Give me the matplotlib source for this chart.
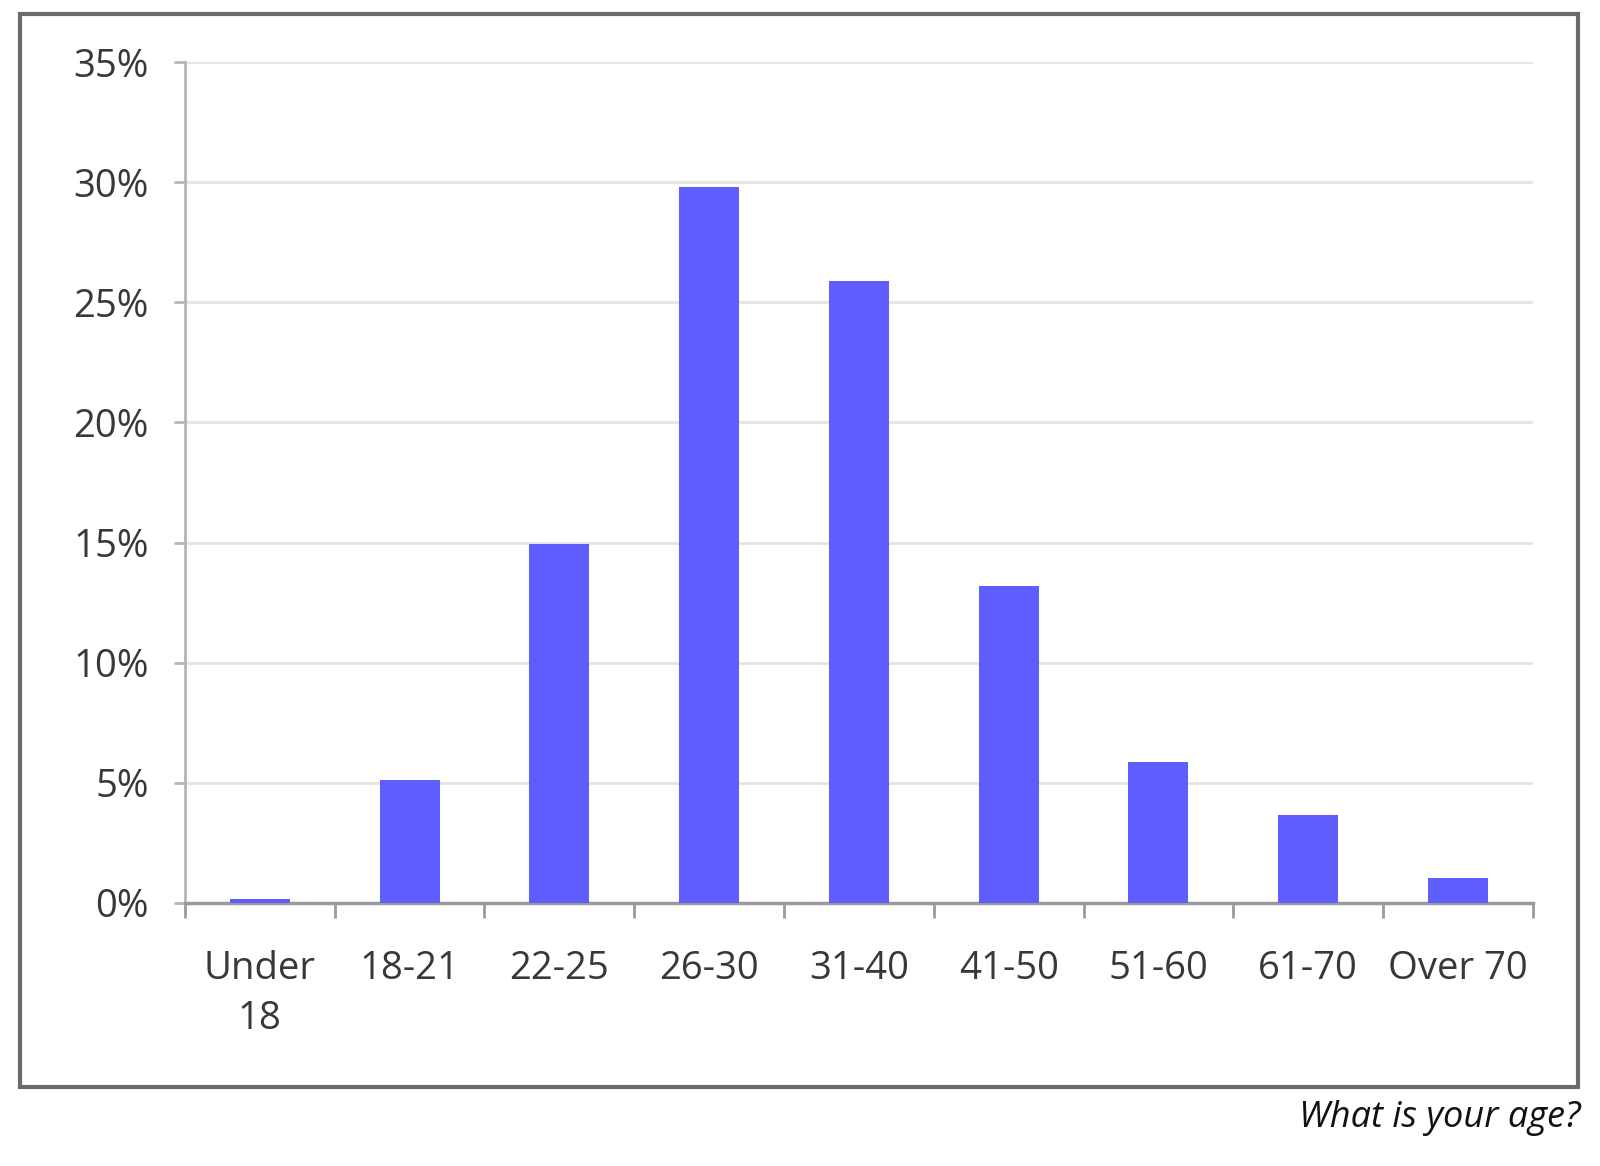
import matplotlib.pyplot as plt
from matplotlib.patches import Rectangle
from matplotlib.ticker import FuncFormatter
import numpy as np

categories = ['Under\n18', '18-21', '22-25', '26-30', '31-40', '41-50', '51-60', '61-70', 'Over 70']
values = [0.17, 5.1, 14.95, 29.8, 25.9, 13.2, 5.85, 3.65, 1.05]
yticks = [0, 5, 10, 15, 20, 25, 30, 35]

plt.rcParams['font.family'] = ['Open Sans', 'DejaVu Sans']

fig = plt.figure(figsize=(16, 11.66), dpi=100)
ax = fig.add_axes([0.1156, 0.2256, 0.958 - 0.1156, 0.9468 - 0.2256])

x = np.arange(len(categories))
ax.bar(x, values, width=0.4, color='#5e5eff', zorder=3)

ax.set_xlim(-0.5, len(categories) - 0.5)
ax.set_ylim(0, 35)
ax.set_yticks(yticks)
ax.yaxis.set_major_formatter(FuncFormatter(lambda v, p: f'{int(v)}%'))
ax.grid(axis='y', color='#e4e4e4', linewidth=2, zorder=0)

ax.set_xticks(x)
ax.set_xticklabels(categories, linespacing=1.4)
ax.set_xticks(np.arange(-0.5, len(categories)), minor=True)
ax.tick_params(axis='x', which='major', length=0, pad=34, labelsize=27.5, labelcolor='#383838')
ax.tick_params(axis='x', which='minor', length=11, width=2, color='#9a9a9a')
ax.tick_params(axis='y', length=8, width=2, color='#b5b5b5', pad=18, labelsize=27.5, labelcolor='#383838')

for s in ['top', 'right']:
    ax.spines[s].set_visible(False)
ax.spines['left'].set_color('#b5b5b5')
ax.spines['left'].set_linewidth(2)
ax.spines['bottom'].set_color('#9a9a9a')
ax.spines['bottom'].set_linewidth(2.5)

# outer frame
fig.patches.append(Rectangle((20 / 1600, 1 - 1087 / 1166), (1578 - 20) / 1600, (1087 - 14) / 1166,
                             transform=fig.transFigure, fill=False, edgecolor='#6a6a6a', linewidth=3))

fig.text(1580 / 1600, 1 - 1127 / 1166, 'What is your age?', ha='right', va='baseline',
         fontsize=26, style='italic', color='#111111')

fig.savefig('out.png', dpi=100)
